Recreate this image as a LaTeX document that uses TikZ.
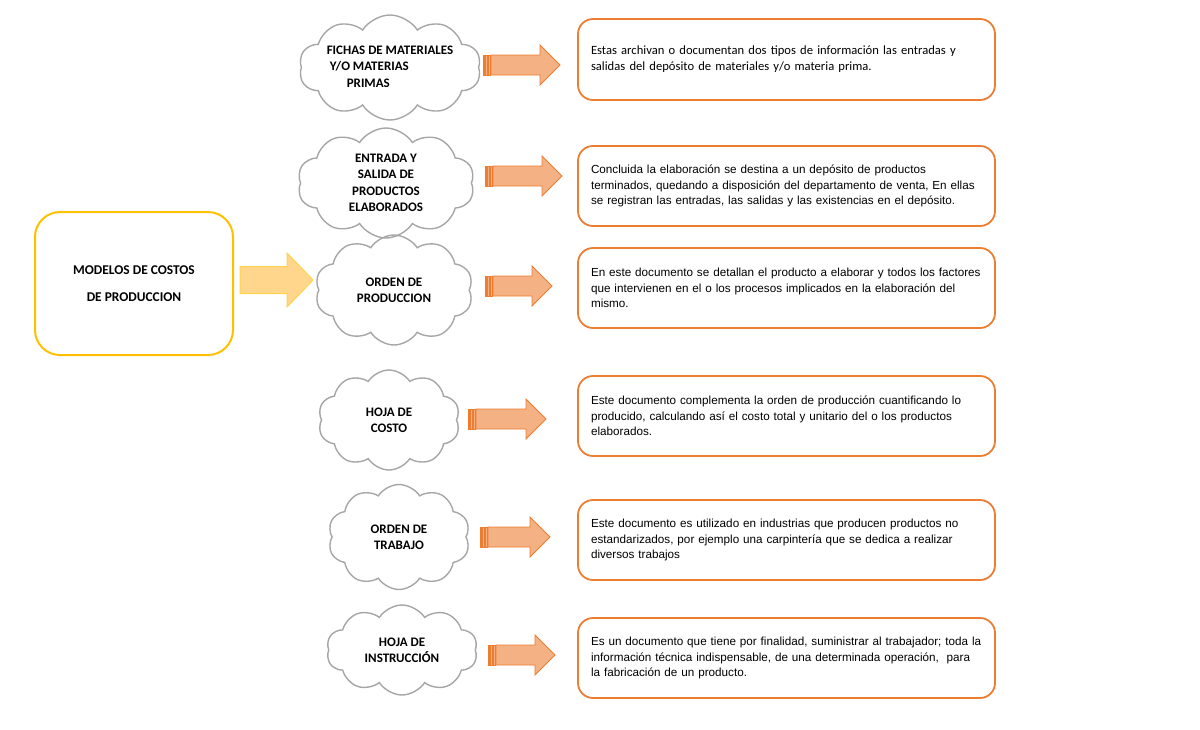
\documentclass[tikz,border=0pt]{standalone}
\usepackage{fontspec}
\setmainfont{Carlito}
\newfontfamily\arialfont{Liberation Sans}
\usetikzlibrary{shapes.symbols}

\definecolor{boxorange}{HTML}{ED7D31}
\definecolor{arrowfill}{HTML}{F4B183}
\definecolor{mainyellow}{HTML}{FFC000}
\definecolor{yellowfill}{HTML}{FFD68C}
\definecolor{cloudgray}{HTML}{A6A6A6}

\tikzset{
  cloudbox/.style={cloud, cloud puffs=10, cloud puff arc=115, cloud ignores aspect,
    draw=cloudgray, line width=0.7pt, inner sep=0pt, align=center,
    font=\bfseries\fontsize{6.5}{8.2}\selectfont},
  infobox/.style={draw=boxorange, line width=0.9pt, rounded corners=7.5pt,
    minimum width=208.5pt, minimum height=40pt, text width=195.5pt, inner xsep=6.5pt,
    align=left, font=\arialfont\fontsize{5.85}{7.8}\selectfont},
  arrowbody/.style={fill=arrowfill, draw=boxorange, line width=0.4pt},
}

% striped block arrow: start coordinate, length
\newcommand\stripearrow[2]{%
  \foreach \s in {0,2.7,5.4}
    \filldraw[arrowbody] ([shift={(\s,-10)}]#1) rectangle ++(1.8,20);
  \filldraw[arrowbody] ([shift={(8,-10)}]#1) -- ++({#2-28},0) -- ++(0,-10) -- ++(20,20)
    -- ++(-20,20) -- ++(0,-10) -- ++({28-#2},0) -- cycle;
}

\begin{document}
\begin{tikzpicture}[x=0.5pt, y=-0.5pt]
\useasboundingbox (0,0) rectangle (1200,729);

% Left box
\node[draw=mainyellow, line width=1pt, rounded corners=12.5pt, minimum width=99pt,
  minimum height=71.5pt, align=center, font=\bfseries\fontsize{6.7}{8}\selectfont]
  (modelos) at (134,283.5) {MODELOS DE COSTOS\\[5.5pt] DE PRODUCCION};

\coordinate (ya) at (240,280);
\filldraw[fill=yellowfill, draw=mainyellow!70, line width=0.5pt] ([shift={(0,-13.5)}]ya)
  -- ++(47,0) -- ++(0,-13.5) -- ++(26,27) -- ++(-26,27) -- ++(0,-13.5) -- ++(-47,0) -- cycle;

% Clouds
\node[cloudbox, minimum width=85pt, minimum height=52.5pt] (fichas) at (390,67.5)
  {\begin{tabular}{@{}l@{}}FICHAS DE MATERIALES\\\hspace*{1.5pt}Y/O MATERIAS\\\hspace*{10pt}PRIMAS\end{tabular}};
\node[cloudbox, minimum width=88.5pt, minimum height=55pt] (entrada) at (386,183)
  {ENTRADA Y\\ SALIDA DE\\ PRODUCTOS\\ ELABORADOS};
\node[cloudbox, minimum width=79pt, minimum height=55pt] (ordenprod) at (394,290)
  {ORDEN DE\\ PRODUCCION};
\node[cloudbox, minimum width=71pt, minimum height=50pt] (hojacosto) at (389,420)
  {HOJA DE\\ COSTO};
\node[cloudbox, minimum width=71pt, minimum height=52.5pt] (ordentrab) at (399,537)
  {ORDEN DE\\ TRABAJO};
\node[cloudbox, minimum width=75.5pt, minimum height=45pt] (hojainst) at (402,650)
  {HOJA DE\\ INSTRUCCIÓN};

% Arrows
\coordinate (a1) at (483,65);
\coordinate (a2) at (485,176);
\coordinate (a3) at (485,286);
\coordinate (a4) at (468,419);
\coordinate (a5) at (480,537);
\coordinate (a6) at (488,655);
\stripearrow{a1}{77}
\stripearrow{a2}{77}
\stripearrow{a3}{67}
\stripearrow{a4}{78}
\stripearrow{a5}{70}
\stripearrow{a6}{67}

% Right boxes
\node[infobox, minimum height=40.5pt, font=\fontsize{6.3}{8}\selectfont] (b1) at (786.5,59.5)
  {Estas archivan o documentan dos tipos de información las entradas y\\ salidas del depósito de materiales y/o materia prima.};
\node[infobox] (b2) at (786.5,186)
  {Concluida la elaboración se destina a un depósito de productos\\ terminados, quedando a disposición del departamento de venta, En ellas\\ se registran las entradas, las salidas y las existencias en el depósito.};
\node[infobox] (b3) at (786.5,288)
  {En este documento se detallan el producto a elaborar y todos los factores\\ que intervienen en el o los procesos implicados en la elaboración del\\ mismo.};
\node[infobox] (b4) at (786.5,416)
  {Este documento complementa la orden de producción cuantificando lo\\ producido, calculando así el costo total y unitario del o los productos\\ elaborados.};
\node[infobox] (b5) at (786.5,540)
  {Este documento es utilizado en industrias que producen productos no\\ estandarizados, por ejemplo una carpintería que se dedica a realizar\\ diversos trabajos};
\node[infobox] (b6) at (786.5,658)
  {Es un documento que tiene por finalidad, suministrar al trabajador; toda la\\ información técnica indispensable, de una determinada operación,\ \ para\\ la fabricación de un producto.};
\end{tikzpicture}
\end{document}
